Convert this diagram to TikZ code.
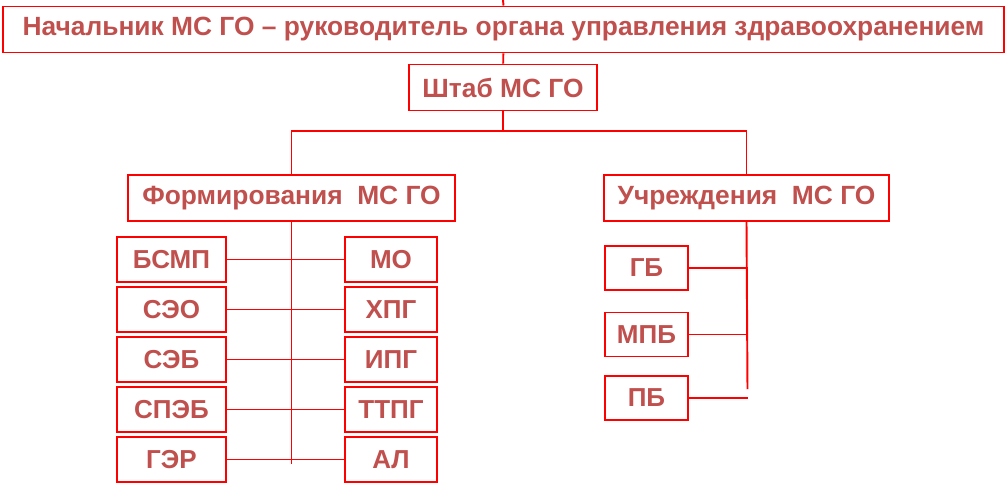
\documentclass[tikz,border=0pt]{standalone}
\usepackage{fontspec}
\setmainfont{Liberation Sans}
\definecolor{texto}{HTML}{C0504D}
\begin{document}
\begin{tikzpicture}[
    caixa/.style={draw=red, line width=1.1pt, text=texto, font=\bfseries\fontsize{15}{17}\selectfont,
                  inner sep=0pt, minimum height=0.92cm},
    sigla/.style={caixa, anchor=west, minimum height=0.9cm, font=\bfseries\fontsize{14.8}{17}\selectfont},
    liga/.style={red, line width=1.1pt}
]
    \useasboundingbox (0,0) rectangle (20.14,-9.66);

    % Chefia
    \node[caixa, minimum width=20.02cm] (chefe) at (10.07,-0.59) {Начальник МС ГО – руководитель органа управления здравоохранением};
    \node[caixa, minimum width=3.76cm] (shtab) at (10.06,-1.75) {Штаб МС ГО};

    % Ramos
    \node[caixa, minimum width=6.54cm] (form) at (5.83,-3.96) {Формирования \ МС ГО};
    \node[caixa, minimum width=5.70cm] (uchr) at (14.93,-3.96) {Учреждения \ МС ГО};

    % Formações (duas colunas)
    \node[sigla, minimum width=2.18cm] (bsmp) at (2.32,-5.19) {БСМП};
    \node[sigla, minimum width=2.18cm] (seo)  at (2.32,-6.19) {СЭО};
    \node[sigla, minimum width=2.18cm] (seb)  at (2.32,-7.19) {СЭБ};
    \node[sigla, minimum width=2.18cm] (speb) at (2.32,-8.19) {СПЭБ};
    \node[sigla, minimum width=2.18cm] (ger)  at (2.32,-9.19) {ГЭР};
    \node[sigla, minimum width=1.84cm] (mo)   at (6.88,-5.19) {МО};
    \node[sigla, minimum width=1.84cm] (hpg)  at (6.88,-6.19) {ХПГ};
    \node[sigla, minimum width=1.84cm] (ipg)  at (6.88,-7.19) {ИПГ};
    \node[sigla, minimum width=1.84cm] (ttpg) at (6.88,-8.19) {ТТПГ};
    \node[sigla, minimum width=1.84cm] (al)   at (6.88,-9.19) {АЛ};

    % Instituições
    \node[sigla, minimum width=1.66cm, minimum height=0.88cm] (gb)  at (12.08,-5.36) {ГБ};
    \node[sigla, minimum width=1.66cm, minimum height=0.88cm] (mpb) at (12.08,-6.69) {МПБ};
    \node[sigla, minimum width=1.66cm, minimum height=0.88cm] (pb)  at (12.08,-7.96) {ПБ};

    % Ligações
    \coordinate (topo) at (10.06,0);
    \coordinate (split) at (10.06,-2.62);
    \coordinate (fimU) at (14.95,-7.78);
    \draw[liga] (topo) -- (chefe.north);
    \draw[liga] (chefe) -- (shtab);
    \draw[liga] (shtab) -- (split);
    \draw[liga] (form.north) |- (split) -| (uchr.north);

    \draw[liga] (form.south) -- (form.south |- ger.east) -- ++(0,-0.08);
    \draw[liga] (bsmp) -- (mo);
    \draw[liga] (seo) -- (hpg);
    \draw[liga] (seb) -- (ipg);
    \draw[liga] (speb) -- (ttpg);
    \draw[liga] (ger) -- (al);

    \draw[liga] (uchr.south) -- (fimU);
    \draw[liga] (gb.east) -- (gb.east -| fimU);
    \draw[liga] (mpb.east) -- (mpb.east -| fimU);
    \draw[liga] (pb.east) -- (pb.east -| fimU);
\end{tikzpicture}
\end{document}
